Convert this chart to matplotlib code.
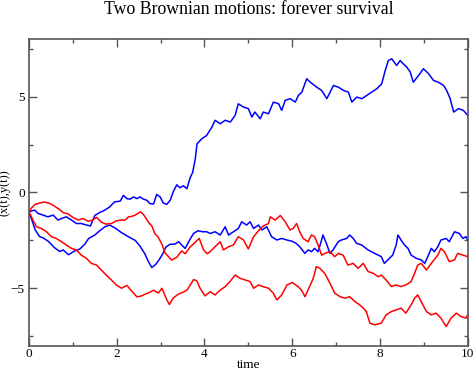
import numpy as np
import matplotlib
matplotlib.use("Agg")
import matplotlib.pyplot as plt
from matplotlib.ticker import MultipleLocator

plt.rcParams["font.family"] = ["Liberation Serif", "DejaVu Serif"]

# (time, value) pairs
blue_top = [
    (0.00, -1.00), (0.13, -0.92), (0.21, -1.10), (0.32, -1.18), (0.43, -1.27), (0.55, -1.18),
    (0.66, -1.44), (0.74, -1.36), (0.85, -1.27), (0.97, -1.44), (1.08, -1.62), (1.19, -1.62),
    (1.31, -1.70), (1.40, -1.75), (1.50, -1.20), (1.61, -1.05), (1.73, -0.92), (1.84, -0.75),
    (1.95, -0.49), (2.08, -0.45), (2.15, -0.15), (2.23, -0.32), (2.30, -0.35), (2.38, -0.23),
    (2.46, -0.32), (2.53, -0.23), (2.61, -0.35), (2.68, -0.40), (2.76, -0.58), (2.84, -0.60),
    (2.91, -0.10), (2.99, -0.23), (3.06, -0.55), (3.14, -0.62), (3.22, -0.40), (3.29, 0.05),
    (3.37, 0.40), (3.44, 0.25), (3.52, 0.35), (3.60, 0.20), (3.67, 0.75), (3.73, 1.05),
    (3.79, 1.75), (3.83, 2.54), (3.94, 2.81), (4.05, 2.98), (4.17, 3.42), (4.24, 3.77),
    (4.36, 3.59), (4.47, 3.77), (4.59, 3.68), (4.70, 4.03), (4.77, 4.63), (4.89, 4.46),
    (5.00, 4.38), (5.08, 3.94), (5.15, 4.20), (5.27, 3.85), (5.34, 4.20), (5.46, 4.11),
    (5.57, 4.72), (5.69, 4.63), (5.76, 4.29), (5.84, 4.81), (5.95, 4.90), (6.07, 4.72),
    (6.14, 5.07), (6.22, 5.24), (6.33, 5.94), (6.41, 5.76), (6.56, 5.50), (6.67, 5.33),
    (6.79, 4.90), (6.94, 5.59), (7.05, 5.50), (7.17, 5.33), (7.28, 5.24), (7.36, 4.72),
    (7.47, 4.98), (7.59, 4.90), (7.70, 5.07), (7.81, 5.24), (7.93, 5.42), (8.04, 5.68),
    (8.12, 6.37), (8.19, 6.89), (8.27, 6.98), (8.38, 6.63), (8.46, 6.89), (8.53, 6.72),
    (8.61, 6.55), (8.69, 6.29), (8.76, 5.76), (8.88, 6.11), (8.99, 6.46), (9.11, 6.20),
    (9.22, 5.85), (9.33, 5.76), (9.45, 5.59), (9.52, 5.33), (9.60, 4.90), (9.68, 4.20),
    (9.79, 4.38), (9.90, 4.29), (10.0, 4.03),
]

blue_mid = [
    (0.00, -1.05), (0.06, -1.40), (0.14, -1.95), (0.24, -2.30), (0.33, -2.38), (0.44, -2.55),
    (0.59, -2.90), (0.70, -3.08), (0.78, -3.00), (0.90, -3.25), (1.04, -3.05), (1.16, -2.95),
    (1.27, -2.70), (1.36, -2.40), (1.50, -2.22), (1.61, -2.00), (1.73, -1.79), (1.84, -1.70),
    (1.96, -1.85), (2.11, -2.10), (2.26, -2.30), (2.42, -2.50), (2.53, -2.80), (2.64, -3.20),
    (2.72, -3.60), (2.80, -3.92), (2.89, -3.75), (2.97, -3.50), (3.05, -3.20), (3.12, -2.85),
    (3.22, -2.70), (3.32, -2.70), (3.41, -2.57), (3.48, -2.74), (3.56, -2.92), (3.64, -2.57),
    (3.75, -2.14), (3.85, -2.00), (3.96, -2.05), (4.05, -2.05), (4.13, -2.14), (4.24, -2.05),
    (4.36, -2.22), (4.47, -1.79), (4.55, -2.22), (4.66, -2.05), (4.77, -1.88), (4.85, -1.53),
    (4.96, -1.70), (5.04, -1.53), (5.12, -1.88), (5.23, -1.70), (5.31, -1.96), (5.42, -1.79),
    (5.53, -2.31), (5.65, -2.48), (5.76, -2.40), (5.88, -2.48), (6.00, -2.55), (6.09, -2.66),
    (6.17, -2.83), (6.29, -3.18), (6.36, -3.00), (6.44, -3.09), (6.51, -2.92), (6.59, -3.09),
    (6.67, -2.48), (6.70, -2.22), (6.78, -2.66), (6.86, -3.18), (6.93, -3.00), (7.05, -2.57),
    (7.12, -2.48), (7.24, -2.40), (7.31, -2.22), (7.39, -2.40), (7.47, -2.66), (7.58, -2.74),
    (7.73, -3.00), (7.88, -3.18), (8.03, -3.35), (8.10, -3.70), (8.18, -3.52), (8.29, -3.27),
    (8.37, -2.74), (8.41, -2.22), (8.48, -2.48), (8.56, -2.74), (8.64, -2.92), (8.71, -3.27),
    (8.83, -3.44), (8.94, -3.52), (9.02, -3.70), (9.09, -3.35), (9.17, -2.92), (9.24, -3.09),
    (9.32, -2.83), (9.39, -2.48), (9.51, -2.40), (9.58, -2.57), (9.70, -2.05), (9.81, -2.14),
    (9.89, -2.40), (9.96, -2.31), (10.0, -2.48),
]

red_upper = [
    (0.00, -1.00), (0.06, -0.80), (0.14, -0.62), (0.24, -0.55), (0.36, -0.50), (0.47, -0.57),
    (0.56, -0.68), (0.67, -0.85), (0.78, -1.05), (0.89, -1.12), (1.00, -1.30), (1.12, -1.44),
    (1.23, -1.36), (1.35, -1.50), (1.45, -1.44), (1.54, -1.30), (1.65, -1.55), (1.75, -1.65),
    (1.88, -1.62), (1.99, -1.48), (2.11, -1.44), (2.19, -1.44), (2.27, -1.27), (2.34, -1.25),
    (2.42, -1.18), (2.49, -1.08), (2.55, -1.01), (2.62, -1.18), (2.72, -1.55), (2.80, -1.75),
    (2.87, -2.15), (2.95, -2.35), (3.03, -2.70), (3.10, -3.15), (3.18, -3.35), (3.25, -3.53),
    (3.37, -3.38), (3.48, -3.05), (3.56, -3.20), (3.67, -2.85), (3.79, -2.60), (3.88, -2.40),
    (3.98, -3.00), (4.06, -3.20), (4.13, -3.09), (4.24, -2.83), (4.36, -2.57), (4.43, -3.00),
    (4.55, -2.83), (4.66, -2.74), (4.77, -2.31), (4.89, -2.48), (5.00, -2.95), (5.12, -2.31),
    (5.23, -2.00), (5.34, -1.75), (5.46, -1.62), (5.50, -1.27), (5.61, -1.44), (5.73, -1.20),
    (5.84, -1.53), (5.95, -1.96), (6.02, -1.88), (6.10, -1.62), (6.17, -2.05), (6.25, -2.40),
    (6.36, -2.57), (6.44, -2.22), (6.51, -2.31), (6.59, -2.74), (6.67, -3.27), (6.74, -3.18),
    (6.86, -3.09), (6.97, -3.35), (7.05, -3.18), (7.16, -3.27), (7.27, -3.79), (7.39, -3.70),
    (7.50, -3.96), (7.62, -3.70), (7.73, -4.13), (7.85, -4.22), (7.96, -4.40), (8.03, -4.31),
    (8.14, -4.57), (8.26, -4.91), (8.37, -4.83), (8.48, -4.91), (8.59, -4.83), (8.71, -4.65),
    (8.79, -4.22), (8.86, -3.79), (8.94, -3.70), (9.06, -4.05), (9.17, -3.70), (9.32, -3.27),
    (9.39, -2.92), (9.47, -3.09), (9.58, -3.61), (9.70, -3.52), (9.77, -3.18), (9.89, -3.27),
    (10.0, -3.35),
]

red_lower = [
    (0.00, -1.00), (0.09, -1.44), (0.17, -1.79), (0.28, -1.88), (0.40, -2.05), (0.51, -2.31),
    (0.62, -2.40), (0.74, -2.57), (0.85, -2.74), (0.97, -2.92), (1.08, -3.00), (1.19, -3.27),
    (1.31, -3.44), (1.42, -3.70), (1.54, -3.79), (1.65, -4.05), (1.76, -4.31), (1.88, -4.57),
    (1.99, -4.83), (2.11, -5.00), (2.23, -4.85), (2.34, -5.15), (2.46, -5.45), (2.57, -5.40),
    (2.65, -5.30), (2.72, -5.25), (2.84, -5.10), (2.95, -5.25), (3.03, -5.00), (3.14, -5.60),
    (3.20, -5.85), (3.29, -5.50), (3.41, -5.30), (3.52, -5.20), (3.60, -5.10), (3.67, -4.85),
    (3.75, -4.55), (3.82, -4.60), (3.90, -5.00), (4.01, -5.40), (4.13, -5.18), (4.24, -5.35),
    (4.36, -5.09), (4.47, -4.92), (4.58, -4.65), (4.70, -4.31), (4.81, -4.48), (4.93, -4.57),
    (5.04, -4.65), (5.12, -5.00), (5.23, -4.83), (5.34, -4.92), (5.46, -5.00), (5.57, -5.26),
    (5.65, -5.61), (5.76, -5.35), (5.88, -4.83), (6.00, -4.70), (6.13, -4.91), (6.21, -5.09),
    (6.29, -5.44), (6.36, -5.09), (6.48, -4.48), (6.55, -3.87), (6.63, -3.96), (6.74, -4.22),
    (6.86, -4.74), (6.97, -5.26), (7.09, -5.44), (7.20, -5.52), (7.31, -5.44), (7.43, -5.70),
    (7.54, -5.87), (7.62, -6.04), (7.69, -6.22), (7.77, -6.82), (7.88, -6.91), (8.03, -6.82),
    (8.14, -6.39), (8.26, -6.22), (8.37, -6.13), (8.48, -6.04), (8.59, -6.30), (8.71, -5.87),
    (8.79, -5.52), (8.86, -5.35), (8.94, -5.70), (9.06, -6.22), (9.17, -6.39), (9.28, -6.30),
    (9.39, -6.56), (9.51, -7.00), (9.62, -6.56), (9.74, -6.30), (9.85, -6.48), (9.96, -6.56),
    (10.0, -6.39),
]

fig = plt.figure(figsize=(4.74, 3.72), dpi=100)
ax = fig.add_axes([0.0612, 0.0707, 0.9255, 0.8237])

for path, col in [(blue_top, "#0000ff"), (blue_mid, "#0000ff"),
                  (red_upper, "#ff0000"), (red_lower, "#ff0000")]:
    arr = np.array(path)
    ax.plot(arr[:, 0], arr[:, 1], color=col, lw=1.1)

ax.set_xlim(0, 10)
ax.set_ylim(-8, 8)
ax.xaxis.set_major_locator(MultipleLocator(2))
ax.xaxis.set_minor_locator(MultipleLocator(1))
ax.yaxis.set_major_locator(MultipleLocator(5))
ax.yaxis.set_minor_locator(MultipleLocator(2.5))
ax.tick_params(which="both", direction="in", top=True, right=True,
               colors="#555555", labelcolor="black", labelsize=9.5, width=1)
ax.tick_params(which="major", length=6)
ax.tick_params(which="minor", length=3)
ax.tick_params(axis="x", pad=2)
ax.tick_params(axis="y", pad=3)
for s in ax.spines.values():
    s.set_color("#555555")
    s.set_linewidth(1.2)

ax.set_xlabel("time", fontsize=9.5, labelpad=-1)
ax.set_ylabel("(x(t),y(t))", fontsize=9, labelpad=0)
fig.text(0.525, 1 - 14 / 372, "Two Brownian motions: forever survival",
         ha="center", va="baseline", fontsize=12.8)

fig.savefig("out.png", dpi=100)
